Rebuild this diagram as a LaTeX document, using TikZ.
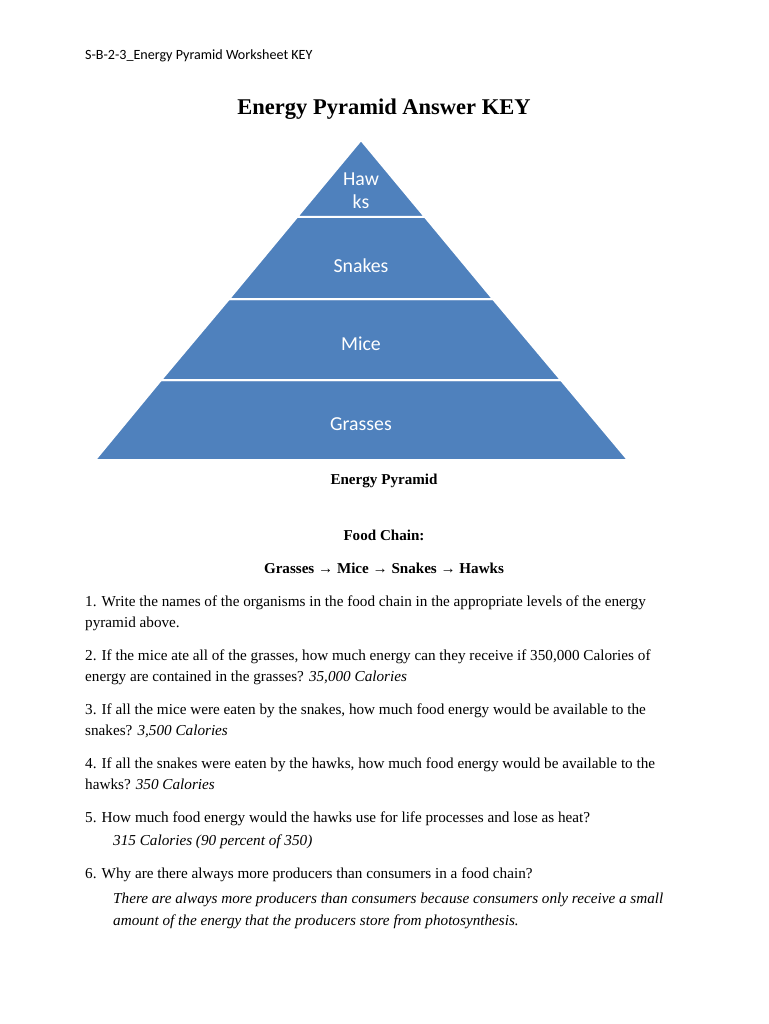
\documentclass[tikz,border=0pt]{standalone}
\usepackage{fontspec}
\setmainfont{Liberation Serif}
\newfontfamily\carlfont{Carlito}
\begin{document}
\begin{tikzpicture}[x=1pt,y=-1pt,
  body/.style={anchor=base west,inner sep=0pt,font=\fontsize{15.2}{18}\selectfont},
  bcap/.style={anchor=base,inner sep=0pt,font=\bfseries\fontsize{15.1}{18}\selectfont},
  lab/.style={text=white,font=\carlfont\fontsize{19.8}{23}\selectfont,align=center},
  lay/.style={fill=pyr,draw=white,line width=2pt}]
\definecolor{pyr}{RGB}{79,129,189}
\useasboundingbox (0,0) rectangle (768,1024);
\fill[white] (0,0) rectangle (768,1024);
\node[anchor=base west,inner sep=0pt,font=\carlfont\fontsize{14.1}{16}\selectfont] (hdr) at (85,60) {S-B-2-3\_Energy Pyramid Worksheet KEY};
\node[anchor=base,inner sep=0pt,font=\bfseries\fontsize{22.5}{26}\selectfont] (title) at (384,115) {Energy Pyramid Answer KEY};
% pyramid
\path[lay] (95,460) -- (161,380) -- (561,380) -- (628,460) -- cycle;
\path[lay] (161,380) -- (229,299) -- (493,299) -- (561,380) -- cycle;
\path[lay] (229,299) -- (297,217) -- (425,217) -- (493,299) -- cycle;
\path[lay] (297,217) -- (361,140) -- (425,217) -- cycle;
\node[lab] (hawks) at (361,191) {Haw\\ks};
\node[lab] (snakes) at (361,266) {Snakes};
\node[lab] (mice) at (361,344) {Mice};
\node[lab] (grasses) at (361,424) {Grasses};
\node[bcap] (cap) at (384,484) {Energy Pyramid};
\node[bcap] (fc) at (384,540) {Food Chain:};
\node[bcap] (chain) at (384,573) {Grasses → Mice → Snakes → Hawks};
\node[body] (q1a) at (85,606) {1. Write the names of the organisms in the food chain in the appropriate levels of the energy};
\node[body] (q1b) at (85,627) {pyramid above.};
\node[body] (q2a) at (85,660) {2. If the mice ate all of the grasses, how much energy can they receive if 350,000 Calories of};
\node[body] (q2b) at (85,681) {energy are contained in the grasses? \textit{35,000 Calories}};
\node[body] (q3a) at (85,714) {3. If all the mice were eaten by the snakes, how much food energy would be available to the};
\node[body] (q3b) at (85,735) {snakes? \textit{3,500 Calories}};
\node[body] (q4a) at (85,768) {4. If all the snakes were eaten by the hawks, how much food energy would be available to the};
\node[body] (q4b) at (85,789) {hawks? \textit{350 Calories}};
\node[body] (q5a) at (85,822) {5. How much food energy would the hawks use for life processes and lose as heat?};
\node[body] (q5b) at (113,845) {\textit{315 Calories (90 percent of 350)}};
\node[body] (q6a) at (85,878) {6. Why are there always more producers than consumers in a food chain?};
\node[body] (q6b) at (113,903) {\textit{There are always more producers than consumers because consumers only receive a small}};
\node[body] (q6c) at (113,925) {\textit{amount of the energy that the producers store from photosynthesis.}};
\end{tikzpicture}
\end{document}
